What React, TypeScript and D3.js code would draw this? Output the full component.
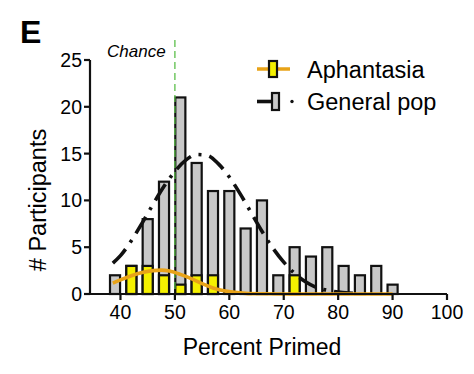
import React from "react";
import * as d3 from "d3";

// bin centres (percent primed) and counts
const bins = [39, 42, 45, 48, 51, 54, 57, 60, 63, 66, 69, 72, 75, 78, 81, 84, 87, 90];
const generalPop = [2, 3, 8, 12, 21, 14, 11, 11, 7, 10, 2, 5, 4, 5, 3, 2, 3, 1];
const aphantasia = [0, 3, 3, 2, 1, 2, 2, 0, 0, 0, 0, 2, 0, 0, 0, 0, 0, 0];

// fitted curves, points
const popFitX = [38.6, 40, 42, 44, 46, 48, 50, 52, 54, 56, 58, 60, 62, 64, 66, 68, 70, 72, 74, 76, 78, 80, 82, 84];
const popFitY = [3.3, 4.1, 5.7, 7.6, 9.6, 11.5, 13.1, 14.3, 14.9, 14.8, 13.9, 12.5, 10.7, 8.7, 6.7, 4.9, 3.4, 2.2, 1.3, 0.7, 0.4, 0.2, 0.1, 0.05];
const aphFitX = [38.6, 40, 42, 44, 46, 47.5, 49, 51, 53, 55, 57, 59, 61, 63, 66, 70, 80, 90];
const aphFitY = [1.15, 1.5, 1.95, 2.3, 2.5, 2.55, 2.45, 2.1, 1.65, 1.1, 0.65, 0.35, 0.17, 0.07, 0.02, 0, 0, 0];

const xTicks = [40, 50, 60, 70, 80, 90, 100];
const yTicks = [0, 5, 10, 15, 20, 25];
const chance = 50;

const W = 474;
const H = 374;
const font = "'Liberation Sans', Arial, sans-serif";

export default function App() {
  const x = d3.scaleLinear().domain([34.4, 100]).range([90, 447]);
  const y = d3.scaleLinear().domain([0, 25]).range([294, 60]);
  const bw = x(1.85) - x(0);

  const popPath = d3
    .line<number>()
    .x((d) => x(d))
    .y((d, i) => y(popFitY[i]))
    .curve(d3.curveMonotoneX)(popFitX);
  const aphPath = d3
    .line<number>()
    .x((d) => x(d))
    .y((d, i) => y(aphFitY[i]))
    .curve(d3.curveMonotoneX)(aphFitX);

  return (
    <svg
      width={W}
      height={H}
      style={{ position: "absolute", left: 0, top: 0, background: "#fff" }}
      fontFamily={font}
    >
      <text x={20} y={43} fontSize={32} fontWeight="bold">E</text>

      {/* bars: general pop behind, aphantasia in front */}
      {bins.map((b, i) => (
        <rect
          key={"g" + i}
          x={x(b) - bw / 2}
          y={y(generalPop[i])}
          width={bw}
          height={y(0) - y(generalPop[i])}
          fill="#c8c8c8"
          stroke="#111"
          strokeWidth={2.2}
        />
      ))}
      {bins.map((b, i) =>
        aphantasia[i] > 0 ? (
          <rect
            key={"a" + i}
            x={x(b) - bw / 2}
            y={y(aphantasia[i])}
            width={bw}
            height={y(0) - y(aphantasia[i])}
            fill="#f4f000"
            stroke="#111"
            strokeWidth={2.2}
          />
        ) : null
      )}

      {/* chance line */}
      <line x1={x(chance)} x2={x(chance)} y1={40} y2={y(0)} stroke="#5cbf4a" strokeWidth={1.3} strokeDasharray="7,4" />
      <text x={107} y={57} fontSize={17} fontStyle="italic">Chance</text>

      <path d={popPath || ""} fill="none" stroke="#111" strokeWidth={3.6} strokeDasharray="19,8,3,8" />
      <path d={aphPath || ""} fill="none" stroke="#e8a318" strokeWidth={3.6} />

      {/* axes */}
      <line x1={90} x2={90} y1={y(25)} y2={y(0)} stroke="#111" strokeWidth={2.2} />
      <line x1={89} x2={x(100)} y1={y(0)} y2={y(0)} stroke="#111" strokeWidth={2.2} />
      {yTicks.map((t) => (
        <g key={"y" + t}>
          <line x1={84} x2={90} y1={y(t)} y2={y(t)} stroke="#111" strokeWidth={2.2} />
          <text x={82} y={y(t)} dy="0.36em" textAnchor="end" fontSize={19.5}>{t}</text>
        </g>
      ))}
      {xTicks.map((t) => (
        <g key={"x" + t}>
          <line x1={x(t)} x2={x(t)} y1={y(0)} y2={y(0) + 6} stroke="#111" strokeWidth={2.2} />
          <text x={x(t)} y={319} textAnchor="middle" fontSize={19.5}>{t}</text>
        </g>
      ))}
      <text x={262} y={355} textAnchor="middle" fontSize={23}>Percent Primed</text>
      <text transform="translate(46,200) rotate(-90)" textAnchor="middle" fontSize={23.5}># Participants</text>

      {/* legend */}
      <line x1={257} x2={290} y1={69} y2={69} stroke="#e8a318" strokeWidth={3.6} />
      <rect x={269} y={61} width={8} height={16} fill="#f4f000" stroke="#111" strokeWidth={2.2} />
      <text x={307} y={78} fontSize={23.5}>Aphantasia</text>
      <line x1={257} x2={272} y1={101.5} y2={101.5} stroke="#111" strokeWidth={3.6} />
      <rect x={272} y={93} width={7} height={17} fill="#c8c8c8" stroke="#111" strokeWidth={2.2} />
      <circle cx={292} cy={101.5} r={1.7} fill="#111" />
      <text x={307} y={110} fontSize={23.5}>General pop</text>
    </svg>
  );
}
